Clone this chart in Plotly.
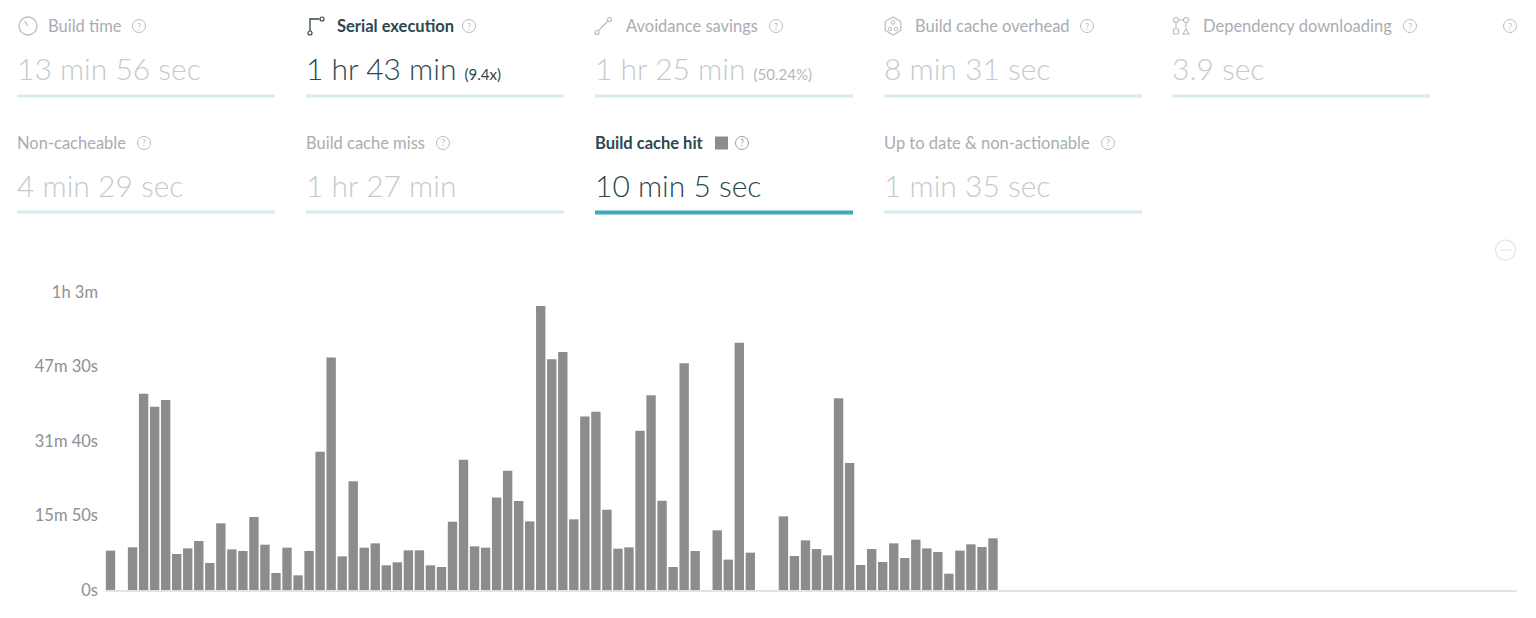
import plotly.graph_objects as go
import math

W, H = 1536, 618

# ---------------- data ----------------
n_slots = 128
slots = list(range(1, n_slots + 1))
build_cache_hit_sec = [
    502, None, 544, 2503, 2337, 2422, 459, 531, 625, 344,
    850, 518, 497, 931, 578, 217, 540, 187, 497, 1764,
    2966, 429, 1386, 540, 595, 315, 353, 506, 506, 315,
    293, 871, 1662, 557, 540, 1181, 1521, 1135, 875, 3621,
    2941, 3035, 901, 2214, 2274, 1024, 527, 544, 2032, 2482,
    1139, 293, 2890, 497, None, 761, 387, 3154, 476, None,
    None, 939, 434, 633, 523, 442, 2444, 1619, 319, 523,
    357, 595, 408, 642, 531, 484, 208, 502, 582, 548,
    659,
]
bar_values = build_cache_hit_sec + [None] * (n_slots - len(build_cache_hit_sec))

ytick_vals = [0, 950, 1900, 2850, 3800]
ytick_text = ["0s", "15m 50s", "31m 40s", "47m 30s", "1h 3m"]

card_labels = ["Build time", "Serial execution", "Avoidance savings",
               "Build cache overhead", "Dependency downloading",
               "Non-cacheable", "Build cache miss", "Build cache hit",
               "Up to date & non-actionable"]
card_values = ["13 min 56 sec", "1 hr 43 min", "1 hr 25 min", "8 min 31 sec",
               "3.9 sec", "4 min 29 sec", "1 hr 27 min", "10 min 5 sec",
               "1 min 35 sec"]
card_suffix = ["", "(9.4x)", "(50.24%)", "", "", "", "", "", ""]
card_active = [False, True, False, False, False, False, False, True, False]

# ---------------- layout helpers (pixel -> paper) ----------------
def px(x):
    return x / W

def py(y):
    return 1 - y / H

FONT = "Lato, 'Open Sans', sans-serif"
LABEL_GRAY = "#a9adb2"
VALUE_GRAY = "#c6cacd"
DARK = "#2c474e"
ICON_GRAY = "#b9bdc1"
UNDER_LIGHT = "#d7ecf1"
TEAL = "#3ea9bd"

fig = go.Figure()
fig.add_trace(go.Bar(
    x=slots, y=bar_values,
    marker=dict(color="#8c8c8c", line=dict(width=0)),
    hoverinfo="skip",
))

annotations = []
shapes = []

col_x = [17, 306, 595, 884, 1172]
card_w = 258
row_label_y = [26, 143]
row_value_y = [68, 185]
row_line_y = [96.5, 212.5]

for i, (lab, val, suf, act) in enumerate(zip(card_labels, card_values, card_suffix, card_active)):
    row = 0 if i < 5 else 1
    col = i if i < 5 else i - 5
    x0 = col_x[col]
    has_icon = row == 0
    lx = x0 + 29 if has_icon else x0 - 2
    annotations.append(dict(
        x=px(lx), y=py(row_label_y[row]), xref="paper", yref="paper",
        xanchor="left", yanchor="middle", showarrow=False,
        text=lab,
        font=dict(family=FONT, size=16.5, color=DARK if act else LABEL_GRAY,
                  weight=700 if act else 400),
    ))
    vtext = val
    if suf:
        scol = DARK if act else "#b4b8bc"
        vtext += " <span style='font-size:15px;font-weight:400;fill:%s'>%s</span>" % (scol, suf)
    annotations.append(dict(
        x=px(x0 - 2), y=py(row_value_y[row]), xref="paper", yref="paper",
        xanchor="left", yanchor="middle", showarrow=False,
        text=vtext,
        font=dict(family=FONT, size=30, color=DARK if act else VALUE_GRAY, weight=300),
    ))
    if act and row == 1:
        shapes.append(dict(type="line", xref="paper", yref="paper",
                           x0=px(x0), x1=px(x0 + card_w),
                           y0=py(row_line_y[row]), y1=py(row_line_y[row]),
                           line=dict(color=TEAL, width=4)))
    else:
        shapes.append(dict(type="line", xref="paper", yref="paper",
                           x0=px(x0), x1=px(x0 + card_w),
                           y0=py(row_line_y[row] - 0.5), y1=py(row_line_y[row] - 0.5),
                           line=dict(color=UNDER_LIGHT, width=3)))

# help icons
help_pos = [(139, 26), (469, 26), (776, 26), (1087, 26), (1410, 26), (1510, 26),
            (144, 143), (443, 143), (742, 143), (1108, 143)]
for hx, hy in help_pos:
    r = 6.5
    col = "#9aa0a4" if hx == 742 else ICON_GRAY
    shapes.append(dict(type="circle", xref="paper", yref="paper",
                       x0=px(hx - r), x1=px(hx + r), y0=py(hy + r), y1=py(hy - r),
                       line=dict(color=col, width=1)))
    annotations.append(dict(x=px(hx), y=py(hy), xref="paper", yref="paper",
                            xanchor="center", yanchor="middle", showarrow=False,
                            text="?", font=dict(family=FONT, size=9, color=col)))

# legend square for build cache hit
shapes.append(dict(type="rect", xref="paper", yref="paper",
                   x0=px(715), x1=px(728), y0=py(149.5), y1=py(136.5),
                   fillcolor="#8c8c8c", line=dict(width=0)))

# card icons (row 1)
# stopwatch
shapes.append(dict(type="circle", xref="paper", yref="paper",
                   x0=px(19), x1=px(37), y0=py(35), y1=py(17),
                   line=dict(color=ICON_GRAY, width=1.3)))
shapes.append(dict(type="line", xref="paper", yref="paper",
                   x0=px(28), x1=px(24.5), y0=py(26), y1=py(21),
                   line=dict(color=ICON_GRAY, width=1.3)))
# serial execution
shapes.append(dict(type="path", xref="paper", yref="paper",
                   path="M %f %f L %f %f L %f %f" % (px(310), py(31), px(310), py(19), px(319), py(19)),
                   line=dict(color=DARK, width=1.3)))
for cx, cy in [(322, 19), (310, 33)]:
    shapes.append(dict(type="circle", xref="paper", yref="paper",
                       x0=px(cx - 2), x1=px(cx + 2), y0=py(cy + 2), y1=py(cy - 2),
                       line=dict(color=DARK, width=1.2)))
# avoidance savings
shapes.append(dict(type="line", xref="paper", yref="paper",
                   x0=px(598), x1=px(608), y0=py(31), y1=py(21),
                   line=dict(color=ICON_GRAY, width=1.2)))
for cx, cy in [(597, 32.5), (609.5, 19.5)]:
    shapes.append(dict(type="circle", xref="paper", yref="paper",
                       x0=px(cx - 2), x1=px(cx + 2), y0=py(cy + 2), y1=py(cy - 2),
                       line=dict(color=ICON_GRAY, width=1.2)))
# hexagon
hx0, hy0, hr = 893, 26, 9
pts = []
for k in range(6):
    a = math.pi / 2 + k * math.pi / 3
    pts.append((hx0 + hr * math.cos(a), hy0 + hr * math.sin(a)))
hp = "M " + " L ".join("%f %f" % (px(a), py(b)) for a, b in pts) + " Z"
shapes.append(dict(type="path", xref="paper", yref="paper", path=hp,
                   line=dict(color=ICON_GRAY, width=1.2)))
for cx, cy in [(893, 22.5), (890, 29), (896, 29)]:
    shapes.append(dict(type="circle", xref="paper", yref="paper",
                       x0=px(cx - 1.8), x1=px(cx + 1.8), y0=py(cy + 1.8), y1=py(cy - 1.8),
                       line=dict(color=ICON_GRAY, width=1)))
# dependency downloading
for cx, cy in [(1176, 20), (1186, 20)]:
    shapes.append(dict(type="circle", xref="paper", yref="paper",
                       x0=px(cx - 2.5), x1=px(cx + 2.5), y0=py(cy + 2.5), y1=py(cy - 2.5),
                       line=dict(color=ICON_GRAY, width=1.1)))
shapes.append(dict(type="line", xref="paper", yref="paper",
                   x0=px(1178.5), x1=px(1183.5), y0=py(20), y1=py(20),
                   line=dict(color=ICON_GRAY, width=1.1)))
for cx in [1176, 1186]:
    shapes.append(dict(type="line", xref="paper", yref="paper",
                       x0=px(cx), x1=px(cx), y0=py(22.5), y1=py(28),
                       line=dict(color=ICON_GRAY, width=1.1)))
shapes.append(dict(type="rect", xref="paper", yref="paper",
                   x0=px(1173.5), x1=px(1178.5), y0=py(34), y1=py(29),
                   line=dict(color=ICON_GRAY, width=1.1)))
shapes.append(dict(type="path", xref="paper", yref="paper",
                   path="M %f %f L %f %f L %f %f Z" % (px(1183), py(34), px(1189), py(34), px(1186), py(29)),
                   line=dict(color=ICON_GRAY, width=1.1)))

# chart collapse icon
shapes.append(dict(type="circle", xref="paper", yref="paper",
                   x0=px(1495.5), x1=px(1515.5), y0=py(260), y1=py(240),
                   line=dict(color="#e4e4e4", width=1.2)))
shapes.append(dict(type="line", xref="paper", yref="paper",
                   x0=px(1500), x1=px(1511), y0=py(250), y1=py(250),
                   line=dict(color="#e4e4e4", width=1.2)))

fig.update_layout(
    width=W, height=H,
    margin=dict(l=0, r=0, t=0, b=0, pad=0, autoexpand=False),
    paper_bgcolor="white", plot_bgcolor="white",
    showlegend=False,
    bargap=0.15,
    font=dict(family=FONT),
    xaxis=dict(domain=[px(105), px(1517)], range=[0.5, n_slots + 0.5],
               showgrid=False, zeroline=False, showticklabels=False,
               showline=True, linecolor="#e3e3e3", linewidth=1.5, ticks="",
               fixedrange=True, automargin=False),
    yaxis=dict(domain=[py(590), py(292)], range=[0, 3800],
               tickvals=ytick_vals, ticktext=ytick_text,
               showgrid=False, zeroline=False, showline=False, ticks="",
               tickfont=dict(family=FONT, size=16.5, color="#8d9094"),
               ticklabelstandoff=6, fixedrange=True, automargin=False),
    annotations=annotations,
    shapes=shapes,
)

fig.write_html(
    "out.html",
    config={"displayModeBar": False},
    post_script="document.body.style.margin='0';document.body.style.padding='0';document.body.style.overflow='hidden';",
)
